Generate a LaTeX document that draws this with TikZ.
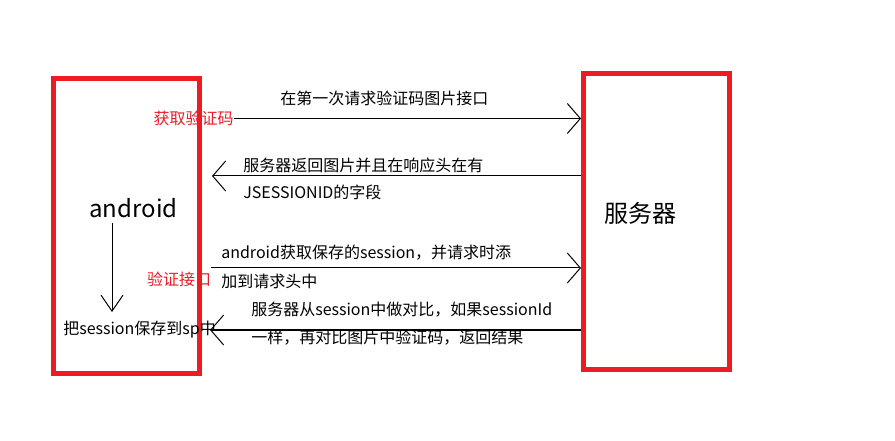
\documentclass[tikz,border=0pt]{standalone}
\usepackage{fontspec}
\setmainfont{Noto Sans CJK SC}
\usetikzlibrary{arrows.meta,fit}
\definecolor{rojo}{RGB}{237,28,36}
\tikzset{
  caja/.style={draw=rojo, line width=3.75pt, inner sep=0pt},
  flecha/.style={draw, line width=0.75pt, -{Straight Barb[length=9.75pt,width=22.5pt]}},
  texto/.style={inner sep=0pt, anchor=west, font=\fontsize{12}{14}\selectfont},
  rotulo/.style={texto, anchor=center, text=rojo},
  titulo/.style={inner sep=0pt, font=\fontsize{18}{20}\selectfont}
}
\begin{document}
\begin{tikzpicture}[x=0.75pt, y=-0.75pt]
      \useasboundingbox (0,0) rectangle (895,441);

      % Cajas
      \node[caja, fit={(53.5,78.5) (199.5,373.5)}] (android) {};
      \node[caja, fit={(583.5,73.5) (729.5,369.5)}] (servidor) {};
      \node[titulo] (nomandroid) at (133.5,208) {android};
      \node[titulo] (nomservidor) at (640,213) {服务器};

      % Rotulos rojos
      \node[rotulo] (obtener) at (193.5,118.5) {获取验证码};
      \node[rotulo] (verificar) at (179,279) {验证接口};

      % Primera peticion
      \draw[flecha] (obtener.east) -- (obtener.east -| servidor.west);
      \node[texto] (t1) at (280,98) {在第一次请求验证码图片接口};

      % Respuesta con JSESSIONID
      \coordinate (r2) at (212,176);
      \draw[flecha] (r2 -| servidor.west) -- (r2);
      \node[texto] (t2) at (243,165) {服务器返回图片并且在响应头在有};
      \node[texto] (t3) at (243,192) {JSESSIONID的字段};

      % Peticion de verificacion
      \coordinate (r3) at (211,268);
      \draw[flecha] (r3) -- (r3 -| servidor.west);
      \node[texto] (t4) at (221,253) {android获取保存的session，并请求时添};
      \node[texto] (t5) at (221,281) {加到请求头中};

      % Resultado
      \node[texto] (guardar) at (63,330) {把session保存到sp中};
      \coordinate (r4) at (210,330);
      \draw[flecha] (r4 -| servidor.west) -- (r4);
      \node[texto] (t6) at (251,310) {服务器从session中做对比，如果sessionId};
      \node[texto] (t7) at (251,338) {一样，再对比图片中验证码，返回结果};

      % Flecha interna
      \coordinate (d1) at (112,223);
      \coordinate (d2) at (112,312);
      \draw[flecha, -{Straight Barb[length=12pt,width=16.5pt]}] (d1) -- (d2);
    \end{tikzpicture}
\end{document}
